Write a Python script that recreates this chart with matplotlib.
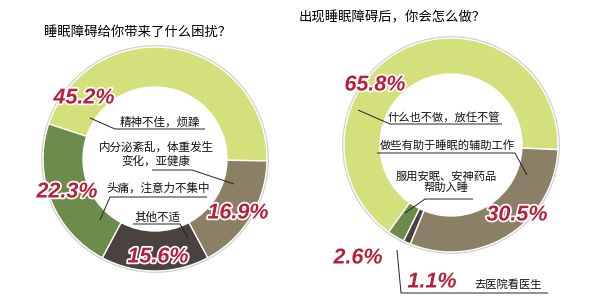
import matplotlib
matplotlib.use('Agg')
import matplotlib.pyplot as plt
import matplotlib.patheffects as pe

plt.rcParams['font.family'] = ['Noto Sans CJK SC', 'DejaVu Sans']

# chart data
left_title = '睡眠障碍给你带来了什么困扰？'
left_labels = ['精神不佳，烦躁', '头痛，注意力不集中', '其他不适', '内分泌紊乱，体重发生\n变化，亚健康']
left_values = [45.2, 22.3, 15.6, 16.9]

right_title = '出现睡眠障碍后，你会怎么做？'
right_labels = ['什么也不做，放任不管', '服用安眠、安神药品\n帮助入睡', '去医院看医生', '做些有助于睡眠的辅助工作']
right_values = [65.8, 2.6, 1.1, 30.5]

colors = ['#d4e07b', '#6d8b4a', '#4a423e', '#8b7f65']
pct_color = '#b81f3b'
pct_fonts = ['Liberation Sans Narrow', 'Liberation Sans', 'DejaVu Sans']

H = 300


def px(x, y):
    # picture pixels (y down) -> axes coords (y up)
    return x, H - y


fig = plt.figure(figsize=(6, 3), dpi=100)
ax = fig.add_axes([0, 0, 1, 1])


def donut(values, center, r, w, start):
    ax.pie(values, colors=colors, center=px(*center), radius=r,
           startangle=start, counterclock=True,
           wedgeprops=dict(width=w, edgecolor='white', linewidth=1.0))
    ax.add_patch(plt.Circle(px(*center), r + 1.3, fill=False,
                            ec='#d2d2d2', lw=0.9))


def label(x, y, s, size=8.3):
    ax.text(*px(x, y), s, ha='center', va='center', fontsize=size,
            linespacing=1.05, color='#111111')


def leader(pts):
    xs = [p[0] for p in pts]
    ys = [H - p[1] for p in pts]
    ax.plot(xs, ys, color='#222222', lw=0.7, solid_capstyle='butt')


def pct(x, y, v):
    ax.text(*px(x, y), f'{v}%', ha='center', va='center', fontsize=15.5,
            fontweight='bold', style='italic', family=pct_fonts,
            color=pct_color,
            path_effects=[pe.withStroke(linewidth=2.5, foreground='white')])


# left donut
donut(left_values, (155, 159), 112, 40, -1)
ax.text(*px(138, 32), left_title, ha='center', va='center', fontsize=9.6)

label(160, 122, left_labels[0])
leader([(90, 118), (115, 129), (205, 129)])
label(156, 154, left_labels[3])
leader([(152, 170), (192, 170), (234, 184)])
label(158, 188, left_labels[1])
leader([(100, 220), (110, 197), (207, 197)])
label(157, 217, left_labels[2])
leader([(133, 224), (180, 224), (188, 238)])

pct(84, 98, left_values[0])
pct(67, 192, left_values[1])
pct(158, 257, left_values[2])
pct(238, 213, left_values[3])

# right donut
donut(right_values, (451, 145), 107, 36, -2.5)
ax.text(*px(392, 17), right_title, ha='center', va='center', fontsize=9.6)

label(444, 117, right_labels[0], 8.1)
leader([(358, 110), (390, 124), (502, 124)])
label(447, 146, right_labels[3], 8.1)
leader([(377, 153), (515, 153), (527, 175)])
label(446, 182, right_labels[1], 8.1)
leader([(405, 213), (425, 199), (473, 199)])
label(508, 285, right_labels[2], 8.1)
leader([(397, 250), (401, 293), (548, 293)])

pct(375, 85, right_values[0])
pct(358, 258, right_values[1])
pct(432, 282, right_values[2])
pct(517, 215, right_values[3])

ax.set_xlim(0, 600)
ax.set_ylim(0, 300)
ax.axis('off')
fig.savefig('out.png', dpi=100, facecolor='white')
